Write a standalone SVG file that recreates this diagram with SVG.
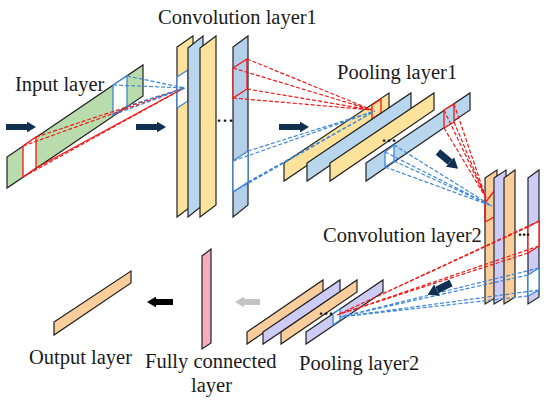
<svg xmlns="http://www.w3.org/2000/svg" width="550" height="403" viewBox="0 0 550 403">
<defs>
<marker id="a" viewBox="0 0 10 10" refX="0" refY="5" markerWidth="1.5" markerHeight="1.8" orient="auto" preserveAspectRatio="none"><path d="M0 0L10 5L0 10Z" fill="context-stroke"/></marker>
</defs>
<style>
text{font-family:"Liberation Serif","Times New Roman",serif;font-size:20.5px;fill:#1a1a1a}
text.d{font-size:16px;font-weight:bold;fill:#111}
.s{stroke:#222;stroke-width:1.2;stroke-linejoin:miter}
.g{fill:#B8DCAC}.y{fill:#FDE29B}.b{fill:#B8D6EE}.b2{fill:#B4CFE9}.o{fill:#F9CD9C}.p{fill:#CCCCF6}.k{fill:#F2AEBD}
.w{fill:#fff}
.rw{stroke:#F01818;stroke-width:1.3}
.bw{stroke:#3C86D8;stroke-width:1.3}
.rd{stroke:#F01818;stroke-width:1.2;stroke-dasharray:4 2;fill:none}
.bd{stroke:#3C86D8;stroke-width:1.2;stroke-dasharray:4 2;fill:none}
.ar{stroke-width:6;fill:none;marker-end:url(#a)}
</style>
<g id="input-layer">
<polygon class="s g" points="7,157 143,65 143,96 7,188"/>
<polygon class="rw w" points="23,146 36,137 36,168 23,177"/>
<polygon class="bw w" points="113,85 127,76 127,106 113,115"/>
<text x="15" y="91">Input layer</text>
</g>
<g id="convolution-layer1">
<polygon class="s y" points="177,47 193,36 193,205 177,217"/>
<polygon class="bw w" points="177,77 188,70 188,101 177,108"/>
<polygon class="s b" points="188,48 203,36 203,205 188,217"/>
<polygon class="s y" points="200,48 216,36 216,205 200,217"/>
<polygon class="s b2" points="233,47 248,36 248,205 233,217"/>
<polygon class="rw b2" points="233,68 247,59 247,89 233,98"/>
<polygon class="bw w" points="233,161 248,151 248,182 233,192"/>
<text x="158" y="24">Convolution layer1</text>
<text class="d" x="217" y="122" style="letter-spacing:2px">...</text>
</g>
<g id="pooling-layer1">
<polygon class="s y" points="284,163 389,93 389,110 284,181"/>
<polygon class="rw y" points="372,105 381,99 381,113 372,119"/>
<polygon class="s b" points="307,163 411,93 411,110 307,181"/>
<polygon class="s y" points="330,163 434,93 434,110 330,181"/>
<polygon class="s b" points="366,163 470,93 470,110 366,181"/>
<polygon class="rw b" points="444,110 454,104 454,122 444,128"/>
<polygon class="bw w" points="385,152 394,145 394,161 385,167"/>
<text x="337" y="79">Pooling layer1</text>
<text class="d" x="382" y="142" style="letter-spacing:1px">...</text>
</g>
<g id="convolution-layer2">
<polygon class="s o" points="485,178 497,170 497,297 485,304"/>
<polygon class="s p" points="494,178 506,170 506,297 494,304"/>
<polygon class="s o" points="504,178 515,170 515,297 504,304"/>
<polygon class="s p" points="528,178 539,170 539,297 528,304"/>
<polygon class="rw w" points="528,227 539,221 539,246 528,253"/>
<polygon class="bw w" points="528,275 539,268 539,290 528,296"/>
<path d="M485 203L494 191M485 222L494 217M485 198V222" class="rw" fill="none"/>
<text x="323" y="242">Convolution layer2</text>
<text class="d" x="518" y="236">...</text>
</g>
<g id="pooling-layer2">
<polygon class="s o" points="247,332 323,280 323,292 247,344"/>
<polygon class="s p" points="263,332 340,280 340,292 263,344"/>
<polygon class="s o" points="281,332 357,280 357,292 281,344"/>
<polygon class="s p" points="306,332 383,280 383,292 306,344"/>
<polygon class="bw w" points="333,314 340,309 340,320 333,325"/>
<text class="d" x="319" y="315" style="letter-spacing:1px">...</text>
<text x="299" y="370">Pooling layer2</text>
</g>
<g id="fully-connected-layer">
<polygon class="s k" points="202,256 211,249 211,343 202,349"/>
<text x="145" y="368">Fully connected</text>
<text x="191" y="392">layer</text>
</g>
<g id="output-layer">
<polygon class="s o" points="54,322 131,271 131,283 54,335"/>
<text x="29" y="364">Output layer</text>
</g>
<g id="connectors">
<path class="rd" d="M36 137L184 88M23 146L184 88M23 177L184 88"/>
<path class="rw" fill="none" d="M36 168L184 88"/>
<path class="bd" d="M127 76L185 88M113 85L185 88M127 106L185 88M113 115L185 88"/>
<path class="rd" d="M247 59L372 110M233 68L372 110M247 89L372 110M233 98L372 110"/>
<path class="bd" d="M248 151L375 111M233 161L375 111M248 182L375 111M233 192L375 111"/>
<path class="rd" d="M444 110L486 198M454 104L486 198M444 128L486 198M454 122L486 198"/>
<path class="bd" d="M394 145L492 206M385 152L492 206M394 161L492 206M385 167L492 206"/>
<path class="rd" d="M539 221L337 315M528 227L337 315M539 246L337 315M528 253L337 315"/>
<path class="bd" d="M539 268L340 317M528 275L340 317M539 290L340 317M528 296L340 317"/>
<path class="ar" stroke="#0F3050" d="M6 127H27"/>
<path class="ar" stroke="#0F3050" d="M136 127H157"/>
<path class="ar" stroke="#0F3050" d="M279 127H300"/>
<path class="ar" stroke="#0F3050" style="stroke-width:7" d="M438 152L450 162"/>
<path class="ar" stroke="#0F3050" style="stroke-width:7" d="M451 283L437 290"/>
<path class="ar" stroke="#C4C4C4" d="M260 302H244"/>
<path class="ar" stroke="#000" d="M173 302H156"/>
</g>
</svg>
